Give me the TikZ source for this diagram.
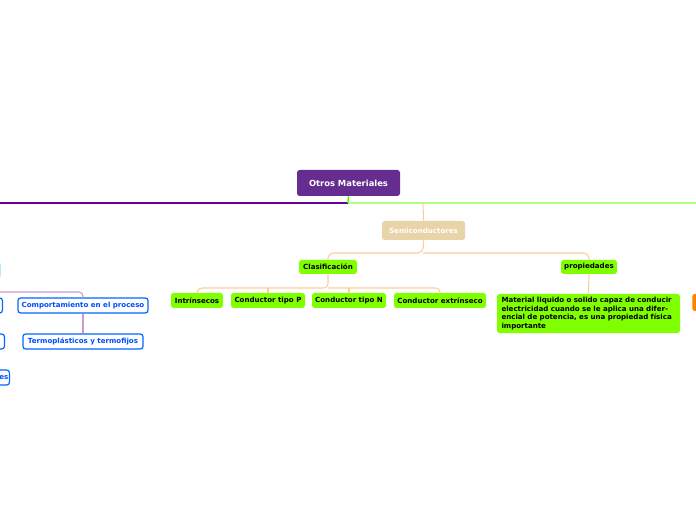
\documentclass[tikz,border=0pt]{standalone}
\usepackage{fontspec}
\setmainfont{DejaVu Sans}
\begin{document}
\begin{tikzpicture}[x=0.75pt,y=-0.75pt,
 box/.style={rounded corners=2pt,inner sep=0,font=\bfseries\fontsize{5.3}{6.5}\selectfont},
 bb/.style={box,draw=blue!60!cyan,line width=0.9pt,fill=white,text=blue!70!cyan},
 ol/.style={draw=orange!40,line width=0.8pt}]
\def\p{*0.75pt}
\useasboundingbox (0,0) rectangle (696,520);
\definecolor{lg}{HTML}{80FF00}
\tikzset{gb/.style={box,fill=lg}}
\node[box,fill={rgb,255:red,102;green,45;blue,145},text=white,minimum width=103\p,minimum height=26\p,font=\bfseries\fontsize{6.3}{7}\selectfont] (root) at (348.5,183) {Otros Materiales};
\coordinate (j) at (348,203);
\draw[violet!80!blue,line width=1.2pt] (j) -- (0,203);
\draw[green!50!lime!50,line width=1.2pt] (j) -- (696,203);
\draw[green!70!yellow,line width=1.2pt] (root.south) -- (j);
\node[box,fill={rgb,255:red,232;green,212;blue,168},text=white,minimum width=83\p,minimum height=19\p] (semi) at (423.5,230.5) {Semiconductores};
\draw[ol,rounded corners=3pt] (423,203) -- (semi.north);
\node[gb,minimum width=58\p,minimum height=14\p] (clas) at (328,267) {Clasificación};
\node[gb,minimum width=56\p,minimum height=14\p] (prop) at (589,267) {propiedades};
\draw[ol,rounded corners=4pt] (semi.south) -- (423,253) -- (328,253) -- (clas.north);
\draw[ol,rounded corners=4pt] (423,253) -- (589,253) -- (prop.north);
\node[gb,minimum width=52\p,minimum height=15\p] (i) at (197,300.5) {Intrínsecos};
\node[gb,minimum width=74\p,minimum height=15\p] (p) at (268,300.5) {Conductor tipo P};
\node[gb,minimum width=74\p,minimum height=15\p] (n) at (349,300.5) {Conductor tipo N};
\node[gb,minimum width=92\p,minimum height=15\p] (e) at (440,300.5) {Conductor extrínseco};
\draw[ol,rounded corners=3pt] (clas.south) -- (328,288) -- (198,288) -- (i.north);
\draw[ol] (268,288) -- (p.north);
\draw[ol,rounded corners=3pt] (328,288) -- (440,288) -- (e.north);
\draw[ol] (349,288) -- (n.north);
\node[gb,minimum width=183\p,minimum height=39\p,align=left,text width=174\p] (m) at (588.5,313.5) {Material liquido o solido capaz de conducir electricidad cuando se le aplica una diferencial de potencia, es una propiedad física importante};
\draw[ol] (prop.south) -- (m.north);
\node[box,fill=orange,minimum width=10\p,minimum height=17\p,anchor=west] (o) at (692,302.5) {};
% left
\node[bb,minimum width=130\p,minimum height=15\p] (c) at (83,305.5) {Comportamiento en el proceso};
\node[bb,minimum width=120\p,minimum height=15\p] (t) at (83,341.5) {Termoplásticos y termofijos};
\draw[violet!40,line width=0.8pt,rounded corners=3pt] (0,292) -- (83,292) -- (c.north);
\draw[violet!40,line width=0.8pt] (c.south) -- (t.north);
\node[bb,minimum width=20\p,minimum height=15\p,anchor=east] (l1) at (3,305.5) {};
\node[bb,minimum width=20\p,minimum height=15\p,anchor=east] (l2) at (5,341.5) {};
\node[bb,minimum width=20\p,minimum height=15\p,anchor=east,align=right,text width=18\p] (l3) at (10,377.5) {es};
\node[box,draw=cyan!40,fill=white,minimum width=20\p,minimum height=15\p,anchor=east] (l0) at (1,270) {};
\end{tikzpicture}
\end{document}
